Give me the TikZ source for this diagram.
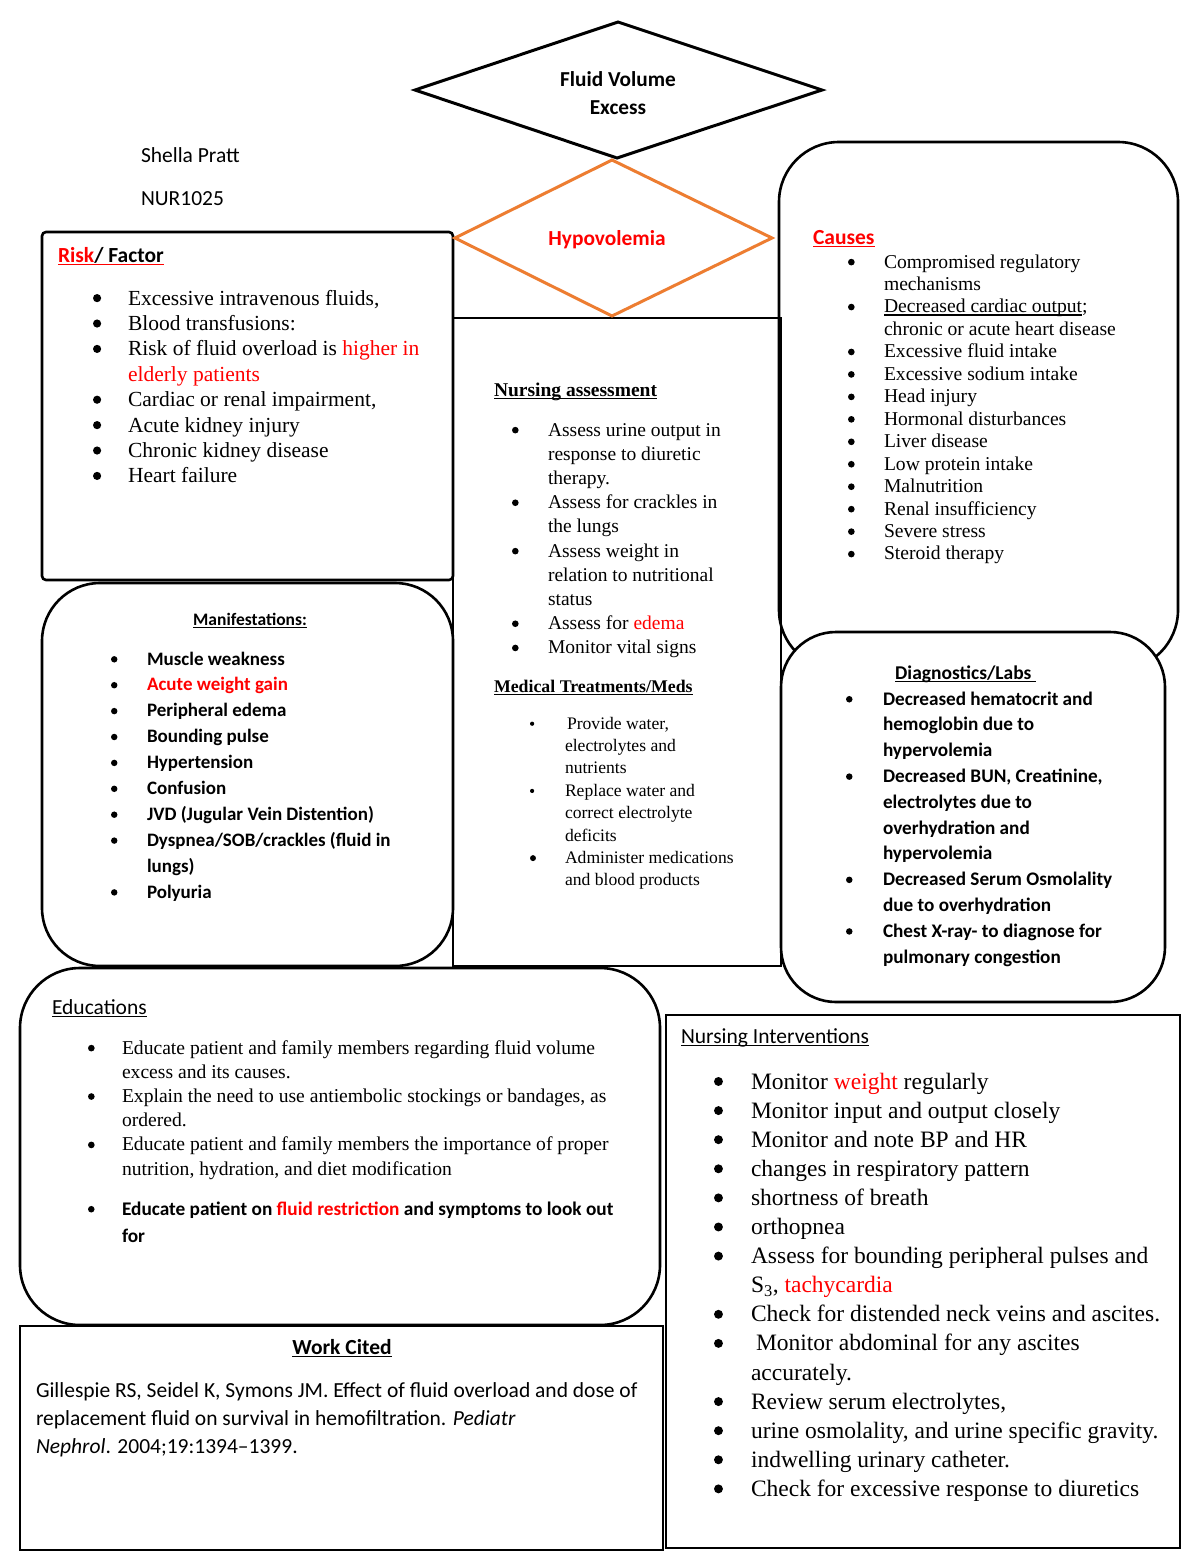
\documentclass[tikz,border=0pt]{standalone}
\usepackage{fontspec}
\setmainfont{Liberation Serif}
\setsansfont{Carlito}
\definecolor{hypo}{RGB}{237,125,49}
\definecolor{rd}{RGB}{255,0,0}
\newcommand\myul[1]{\setbox0\hbox{#1}\rlap{\rule[-2.8pt]{\wd0}{1.3pt}}\box0}
\newcommand\bu{\tikz[baseline=-0.32em]\fill[black] (0,0) circle (0.19em);}
\newcommand\cbu{\tikz[baseline=-0.3em]\fill[black] (0,0) circle (0.17em);}
\newcommand\sbu{\tikz[baseline=-0.3em]\fill[black] (0,0) circle (0.12em);}
\begin{document}
\begin{tikzpicture}[x=1pt,y=-1pt,
  box/.style={draw=black, line width=2.6pt, fill=white},
  txt/.style={anchor=base west, inner sep=0pt, outer sep=0pt, align=left},
  riskf/.style={font=\rmfamily\fontsize{21.5}{25.4}\selectfont},
  causef/.style={font=\rmfamily\fontsize{19.6}{22.46}\selectfont},
  assessf/.style={font=\rmfamily\fontsize{19.5}{24.2}\selectfont},
  medf/.style={font=\rmfamily\fontsize{17.6}{22.4}\selectfont},
  manif/.style={font=\sffamily\bfseries\fontsize{19}{25.9}\selectfont},
  diagf/.style={font=\sffamily\bfseries\fontsize{19.2}{25.8}\selectfont},
  eduf/.style={font=\rmfamily\fontsize{19.6}{24.2}\selectfont},
  edubf/.style={font=\sffamily\bfseries\fontsize{19.3}{27}\selectfont},
  intf/.style={font=\rmfamily\fontsize{23.5}{29.1}\selectfont},
  citef/.style={font=\sffamily\fontsize{21.5}{28}\selectfont},
  headf/.style={font=\sffamily\bfseries\fontsize{21.5}{24}\selectfont},
  headr/.style={font=\sffamily\fontsize{21.5}{24}\selectfont}
]
\useasboundingbox[fill=white] (0,0) rectangle (1200,1553);

% ---------- boxes ----------
\draw[box, rounded corners=60pt] (779,142) rectangle (1178,670);
\draw[box, rounded corners=55pt] (781,632) rectangle (1165,1002);
\draw[box, rounded corners=4pt] (42,232) rectangle (453,580);
\draw[box, rounded corners=58pt] (42,583) rectangle (453,966);
\draw[box, fill=none] (453,318) rectangle (781,966);
\draw[box, rounded corners=60pt] (20,968) rectangle (660,1325);
\draw[box] (20,1326) rectangle (663,1550);
\draw[box] (666,1015) rectangle (1180,1548);

% ---------- diamonds ----------
\coordinate (fL) at (415,90); \coordinate (fT) at (618,22);
\coordinate (fR) at (822,90); \coordinate (fB) at (617,158);
\draw[line width=3pt, line join=miter, fill=white] (fL) -- (fT) -- (fR) -- (fB) -- cycle;
\coordinate (hL) at (455,238); \coordinate (hT) at (612,160);
\coordinate (hR) at (772,238); \coordinate (hB) at (612,316);
\draw[draw=hypo, line width=3pt, line join=miter] (hL) -- (hT) -- (hR) -- (hB) -- cycle;

\node[font=\sffamily\bfseries\fontsize{21.3}{28}\selectfont, align=center, inner sep=0pt] (fve) at (618,93) {Fluid Volume\\Excess};
\node[font=\sffamily\bfseries\fontsize{21.4}{24}\selectfont, text=rd, inner sep=0pt] (hypotxt) at (607,240) {Hypovolemia};

% ---------- name ----------
\node[txt, headr] (name) at (141,162) {Shella Pratt};
\node[txt, headr] (course) at (141,205) {NUR1025};

% ---------- Risk / Factor ----------
\node[txt, headf] (riskh) at (58,262) {\color{rd}\myul{Risk{\color{black}/ Factor}}};
\node[txt, riskf] (riskl) at (93,305) {\begin{tabular}[t]{@{}p{35pt}@{}l@{}}
\bu & Excessive intravenous fluids,\\
\bu & Blood transfusions:\\
\bu & Risk of fluid overload is {\color{rd}higher in}\\
    & {\color{rd}elderly patients}\\
\bu & Cardiac or renal impairment,\\
\bu & Acute kidney injury\\
\bu & Chronic kidney disease\\
\bu & Heart failure
\end{tabular}};

% ---------- Causes ----------
\node[txt, headf] (causeh) at (813,244) {\color{rd}\myul{Causes}};
\node[txt, causef] (causel) at (848,268) {\begin{tabular}[t]{@{}p{36pt}@{}l@{}}
\cbu & Compromised regulatory\\
     & mechanisms\\
\cbu & \myul{Decreased cardiac output};\\
     & chronic or acute heart disease\\
\cbu & Excessive fluid intake\\
\cbu & Excessive sodium intake\\
\cbu & Head injury\\
\cbu & Hormonal disturbances\\
\cbu & Liver disease\\
\cbu & Low protein intake\\
\cbu & Malnutrition\\
\cbu & Renal insufficiency\\
\cbu & Severe stress\\
\cbu & Steroid therapy
\end{tabular}};

% ---------- Nursing assessment ----------
\node[txt, font=\rmfamily\bfseries\fontsize{19.5}{22}\selectfont] (assessh) at (494,396) {\myul{Nursing assessment}};
\node[txt, assessf] (assessl) at (512,436) {\begin{tabular}[t]{@{}p{36pt}@{}l@{}}
\cbu & Assess urine output in\\
    & response to diuretic\\
    & therapy.\\
\cbu & Assess for crackles in\\
    & the lungs\\
\cbu & Assess weight in\\
    & relation to nutritional\\
    & status\\
\cbu & Assess for {\color{rd}edema}\\
\cbu & Monitor vital signs
\end{tabular}};

% ---------- Medical treatments ----------
\node[txt, font=\rmfamily\bfseries\fontsize{17.8}{22}\selectfont] (medh) at (494,692) {\myul{Medical Treatments/Meds}};
\node[txt, medf] (medl) at (530,729) {\begin{tabular}[t]{@{}p{35pt}@{}l@{}}
\sbu & \hspace{2pt}Provide water,\\
    & electrolytes and\\
    & nutrients\\
\sbu & Replace water and\\
    & correct electrolyte\\
    & deficits\\
\cbu & Administer medications\\
    & and blood products
\end{tabular}};

% ---------- Manifestations ----------
\node[anchor=base, inner sep=0pt, font=\sffamily\bfseries\fontsize{17.5}{20}\selectfont] (manih) at (250,625) {\myul{Manifestations:}};
\node[txt, manif] (manil) at (111,665) {\begin{tabular}[t]{@{}p{36pt}@{}l@{}}
\cbu & Muscle weakness\\
\cbu & {\color{rd}Acute weight gain}\\
\cbu & Peripheral edema\\
\cbu & Bounding pulse\\
\cbu & Hypertension\\
\cbu & Confusion\\
\cbu & JVD (Jugular Vein Distention)\\
\cbu & Dyspnea/SOB/crackles (fluid in\\
     & lungs)\\
\cbu & Polyuria
\end{tabular}};

% ---------- Diagnostics ----------
\node[anchor=base west, inner sep=0pt, font=\sffamily\bfseries\fontsize{19.5}{24}\selectfont] (diagh) at (895,679) {\myul{Diagnostics/Labs\ }};
\node[txt, diagf] (diagl) at (846,705) {\begin{tabular}[t]{@{}p{37pt}@{}l@{}}
\cbu & Decreased hematocrit and\\
     & hemoglobin due to\\
     & hypervolemia\\
\cbu & Decreased BUN, Creatinine,\\
     & electrolytes due to\\
     & overhydration and\\
     & hypervolemia\\
\cbu & Decreased Serum Osmolality\\
     & due to overhydration\\
\cbu & Chest X-ray- to diagnose for\\
     & pulmonary congestion
\end{tabular}};

% ---------- Educations ----------
\node[txt, headr] (eduh) at (52,1014) {\myul{Educations}};
\node[txt, eduf] (edul) at (88,1054) {\begin{tabular}[t]{@{}p{34pt}@{}l@{}}
\cbu & Educate patient and family members regarding fluid volume\\
     & excess and its causes.\\
\cbu & Explain the need to use antiembolic stockings or bandages, as\\
     & ordered.\\
\cbu & Educate patient and family members the importance of proper\\
     & nutrition, hydration, and diet modification
\end{tabular}};
\node[txt, edubf] (edub) at (88,1215) {\begin{tabular}[t]{@{}p{34pt}@{}l@{}}
\cbu & Educate patient on {\color{rd}fluid restriction} and symptoms to look out\\
     & for
\end{tabular}};

% ---------- Nursing Interventions ----------
\node[txt, headr] (inth) at (681,1043) {\myul{Nursing Interventions}};
\node[txt, intf] (intl) at (714,1089) {\begin{tabular}[t]{@{}p{37pt}@{}l@{}}
\bu & Monitor {\color{rd}weight} regularly\\
\bu & Monitor input and output closely\\
\bu & Monitor and note BP and HR\\
\bu & changes in respiratory pattern\\
\bu & shortness of breath\\
\bu & orthopnea\\
\bu & Assess for bounding peripheral pulses and\\
    & S\textsubscript{3}, {\color{rd}tachycardia}\\
\bu & Check for distended neck veins and ascites.\\
\bu & \hspace{5pt}Monitor abdominal for any ascites\\
    & accurately.\\
\bu & Review serum electrolytes,\\
\bu & urine osmolality, and urine specific gravity.\\
\bu & indwelling urinary catheter.\\
\bu & Check for excessive response to diuretics
\end{tabular}};

% ---------- Work Cited ----------
\node[anchor=base, inner sep=0pt, headf] (wch) at (342,1354) {\myul{Work Cited}};
\node[txt, citef] (wct) at (36,1397) {\begin{tabular}[t]{@{}l@{}}
Gillespie RS, Seidel K, Symons JM. Effect of fluid overload and dose of\\
replacement fluid on survival in hemofiltration. \textit{Pediatr}\\
\textit{Nephrol}. 2004;19:1394--1399.
\end{tabular}};
\end{tikzpicture}
\end{document}
